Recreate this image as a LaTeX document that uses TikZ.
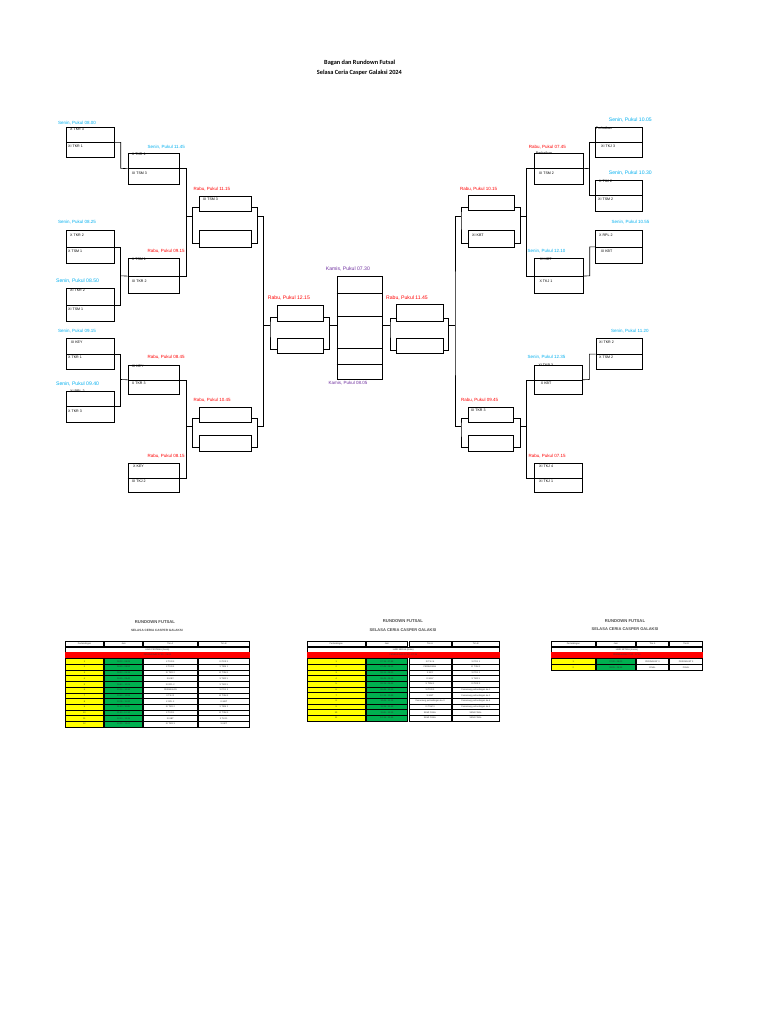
\documentclass[tikz,border=0pt]{standalone}
\usepackage{fontspec}
\setmainfont{Liberation Sans}
\newfontfamily\judulfont{Carlito}
\usepackage{tikz}
\usetikzlibrary{calc}
\definecolor{seninblue}{HTML}{00B0F0}
\definecolor{rabured}{HTML}{FF0000}
\definecolor{kamispurple}{HTML}{7030A0}
\definecolor{jamgreen}{HTML}{00B050}
\definecolor{tabyellow}{HTML}{FFFF00}

\begin{document}
\begin{tikzpicture}[x=1pt, y=-1pt,
    match/.style={draw, line width=0.6pt, inner sep=0pt, anchor=north west},
    conn/.style={line width=0.6pt},
    team/.style={anchor=west, inner sep=0pt, font=\fontsize{3.6}{4}\selectfont},
    senin/.style={anchor=west, inner sep=0pt, text=seninblue, font=\fontsize{4.5}{5}\selectfont},
    rabu/.style={senin, text=rabured},
    kamis/.style={senin, text=kamispurple},
    besar/.style={font=\fontsize{5.1}{6}\selectfont},
    cell/.style={draw, line width=0.6pt, inner sep=0pt, anchor=north west, text=black!80, font=\fontsize{2.2}{2.4}\selectfont},
    tabjudul/.style={inner sep=0pt, text=black!70, font=\bfseries\fontsize{4.2}{5}\selectfont}]
  \useasboundingbox (0,0) rectangle (768,1024);
  \fill[white] (0,0) rectangle (768,1024);

  \node[font=\judulfont\bfseries\fontsize{6.3}{7}\selectfont] (judul) at (359.7,63.3) {Bagan dan Rundown Futsal};
  \node[font=\judulfont\bfseries\fontsize{6.3}{7}\selectfont] (acara) at (359.4,72.3) {Selasa Ceria Casper Galaksi 2024};

  % kiri
  \node[match, minimum width=48.3, minimum height=29.7] (A) at (66,127.3) {};
  \node[match, minimum width=51.3, minimum height=31.3] (B) at (127.7,152.7) {};
  \node[match, minimum width=48.3, minimum height=33] (C) at (66,230) {};
  \node[match, minimum width=51.3, minimum height=35] (D) at (127.7,258.3) {};
  \node[match, minimum width=48.3, minimum height=32.7] (E) at (66,288.3) {};
  \node[match, minimum width=48.3, minimum height=31] (H) at (66,338.3) {};
  \node[match, minimum width=48.3, minimum height=31.3] (I) at (66,390.7) {};
  \node[match, minimum width=51.3, minimum height=29.6] (J) at (127.7,364.7) {};
  \node[match, minimum width=51.3, minimum height=28.4] (M) at (127.7,463.3) {};
  \node[match, minimum width=51.7, minimum height=15] (F) at (199.3,195.7) {};
  \node[match, minimum width=51.7, minimum height=17.3] (G) at (199.3,230) {};
  \node[match, minimum width=51.7, minimum height=15.3] (K) at (199.3,406.7) {};
  \node[match, minimum width=51.7, minimum height=16] (L) at (199.3,435.3) {};
  % tengah
  \node[match, minimum width=45.4, minimum height=16.3] (N) at (277.3,304.7) {};
  \node[match, minimum width=45.4, minimum height=15.6] (O) at (277.3,337.7) {};
  \node[match, minimum width=45.6, minimum height=103.6] (fin) at (336.7,275.7) {};
  \node[match, minimum width=47, minimum height=16.4] (P) at (395.7,304.3) {};
  \node[match, minimum width=47, minimum height=15] (P2) at (395.7,338.3) {};
  % kanan
  \node[match, minimum width=45.3, minimum height=15] (T) at (468.3,195.5) {};
  \node[match, minimum width=45.3, minimum height=17.3] (U) at (468.3,230) {};
  \node[match, minimum width=45, minimum height=15.6] (V) at (468.3,406.7) {};
  \node[match, minimum width=45, minimum height=16] (W) at (468.3,435.3) {};
  \node[match, minimum width=48.7, minimum height=31.3] (S) at (534,152.7) {};
  \node[match, minimum width=48.7, minimum height=35] (AB) at (534,258.3) {};
  \node[match, minimum width=48.3, minimum height=29.6] (X) at (534,364.7) {};
  \node[match, minimum width=48.3, minimum height=28.4] (Z) at (534,463.3) {};
  \node[match, minimum width=47, minimum height=29.7] (Q) at (595.3,127.3) {};
  \node[match, minimum width=47, minimum height=30.4] (R) at (595.3,180.3) {};
  \node[match, minimum width=47, minimum height=33] (AA) at (595.3,230) {};
  \node[match, minimum width=46.6, minimum height=31] (Y) at (595.7,338.3) {};

  \foreach \m in {A,B,C,D,E,H,I,J,M,S,AB,X,Z,Q,R,AA,Y}
    \draw[conn] (\m.west) -- (\m.east);
  \foreach \d in {18,41,72.6,88.6}
    \draw[conn] ([yshift=-\d pt]fin.north west) -- ([yshift=-\d pt]fin.north east);

  % titik belok
  \coordinate (lr0) at (120.7,168.35);
  \coordinate (lr1) at (120.7,275.8);
  \coordinate (lr2) at (120.7,379.5);
  \coordinate (lq1) at (186.7,216);
  \coordinate (lq2) at (186.7,426.7);
  \coordinate (lp1) at (192.3,216);
  \coordinate (lp2) at (192.3,426.7);
  \coordinate (lo1) at (257.3,216);
  \coordinate (lo2) at (257.3,426.7);
  \coordinate (ln) at (263.3,325.7);
  \coordinate (lm) at (270,325.7);
  \coordinate (ll) at (329.7,325.7);
  \coordinate (rl) at (390,325.4);
  \coordinate (rm) at (448.3,325.4);
  \coordinate (rn) at (455,325.4);
  \coordinate (rp1) at (461,216);
  \coordinate (rp2) at (461,426.7);
  \coordinate (rq1) at (520.7,216);
  \coordinate (rq2) at (520.7,426.7);
  \coordinate (rr1) at (526.7,216);
  \coordinate (rr2) at (526.7,426.7);
  \coordinate (rs1) at (589.7,168.35);
  \coordinate (rs2) at (589.7,275.8);
  \coordinate (rs3) at (589.3,379.5);

  \draw[conn] (A.east) -| (lr0) -- (B.west);
  \draw[conn] (C.east) -| (lr1) |- (E.east);
  \draw[conn] (lr1) -- (D.west);
  \draw[conn] (H.east) -| (lr2) |- (I.east);
  \draw[conn] (lr2) -- (J.west);
  \draw[conn] (B.east) -| (lq1) |- (D.east);
  \draw[conn] (J.east) -| (lq2) |- (M.east);
  \draw[conn] (lq1) -- (lp1);
  \draw[conn] (lq2) -- (lp2);
  \draw[conn] ([yshift=4pt]F.south west) -| (lp1) |- ([yshift=5pt]G.south west);
  \draw[conn] ([yshift=4pt]F.south east) -| (lo1) |- ([yshift=5pt]G.south east);
  \draw[conn] ([yshift=4.7pt]K.south west) -| (lp2) |- ([yshift=4.6pt]L.south west);
  \draw[conn] ([yshift=4.7pt]K.south east) -| (lo2) |- ([yshift=4.6pt]L.south east);
  \draw[conn] (lo1) -| (ln) |- (lo2);
  \draw[conn] (ln) -- (lm);
  \draw[conn] ([yshift=4.3pt]N.south west) -| (lm) |- ([yshift=5pt]O.south west);
  \draw[conn] ([yshift=4.3pt]N.south east) -| (ll) |- ([yshift=5pt]O.south east);
  \draw[conn] (ll) -- (ll -| fin.west);
  \draw[conn] (rl -| fin.east) -- (rl);
  \draw[conn] ([yshift=3.4pt]P.south west) -| (rl) |- ([yshift=4pt]P2.south west);
  \draw[conn] ([yshift=3.4pt]P.south east) -| (rm) |- ([yshift=4pt]P2.south east);
  \draw[conn] (rm) -- (rn);
  \draw[conn] (rp1) -| (rn) |- (rp2);
  \draw[conn] ([yshift=3.8pt]T.south west) -| (rp1) |- ([yshift=5pt]U.south west);
  \draw[conn] ([yshift=3.8pt]T.south east) -| (rq1) |- ([yshift=5pt]U.south east);
  \draw[conn] ([yshift=5pt]V.south west) -| (rp2) |- ([yshift=4.6pt]W.south west);
  \draw[conn] ([yshift=5pt]V.south east) -| (rq2) |- ([yshift=4.6pt]W.south east);
  \draw[conn] (rq1) -- (rr1);
  \draw[conn] (rq2) -- (rr2);
  \draw[conn] (S.west) -| (rr1) |- (AB.west);
  \draw[conn] (X.west) -| (rr2) |- (Z.west);
  \draw[conn] (Q.west) -| (rs1) |- (R.west);
  \draw[conn] (rs1) -- (S.east);
  \draw[conn] (AA.west) -| (rs2) -- (AB.east);
  \draw[conn] (Y.west) -| (rs3) -- (X.east);

  % nama tim
  \node[team] (A-1) at (70,129) {X TKR 3};
  \node[team] (A-2) at (68,146.7) {XI TKR 1};
  \node[team] (B-1) at (131.7,154.5) {X TKR 1};
  \node[team] (B-2) at (131.7,173.3) {XI TSM 3};
  \node[team] (C-1) at (70,235) {X TKR 2};
  \node[team] (C-2) at (68,251) {X TSM 1};
  \node[team] (D-1) at (131.7,259.5) {X TSM 1};
  \node[team] (D-2) at (131.7,281.7) {XI TKR 2};
  \node[team] (E-1) at (70,290.5) {XI TKR 2};
  \node[team] (E-2) at (68,309.3) {XI TSM 1};
  \node[team] (H-1) at (70.7,342.3) {XI KEY};
  \node[team] (H-2) at (68,357) {X TKR 1};
  \node[team] (I-1) at (70,391.5) {XI RPL 2};
  \node[team] (I-2) at (68,411) {X TKR 3};
  \node[team] (J-1) at (131.7,366) {XI KEY};
  \node[team] (J-2) at (131.7,383.7) {X TKR 3};
  \node[team] (M-1) at (133,466) {X KEY};
  \node[team] (M-2) at (131.7,481.7) {XI TKJ 2};
  \node[team] (F-1) at (202.7,199.3) {XI TSM 3};
  \node[team] (U-1) at (472,235) {XI KBT};
  \node[team] (V-1) at (470.7,410.7) {XI TKR 3};
  \node[team] (S-1) at (535.7,153.7) {Perbaikan};
  \node[team] (S-2) at (538.7,173) {XI TSM 2};
  \node[team] (AB-1) at (540,259) {XI KBT};
  \node[team] (AB-2) at (539.3,281.7) {X TKJ 1};
  \node[team] (X-1) at (538.3,365.5) {XI TKR 3};
  \node[team] (X-2) at (540.7,383.7) {X KBT};
  \node[team] (Z-1) at (539,466.7) {XI TKJ 4};
  \node[team] (Z-2) at (539,481.7) {XI TKJ 1};
  \node[team] (Q-1) at (595.7,128.7) {Perbaikan};
  \node[team] (Q-2) at (601,146.7) {XI TKJ 3};
  \node[team] (R-1) at (599,181) {X TKJ 2};
  \node[team] (R-2) at (598,199.3) {XI TSM 2};
  \node[team] (AA-1) at (599,235) {X RPL 2};
  \node[team] (AA-2) at (600.7,251) {XI KBT};
  \node[team] (Y-1) at (599,342.3) {XI TKR 2};
  \node[team] (Y-2) at (599,357) {X TSM 2};

  % jadwal
  \node[senin] (l-a) at (58,122.7) {Senin, Pukul 08.00};
  \node[senin] (l-b) at (147.3,147.3) {Senin, Pukul 11.45};
  \node[rabu] (l-f) at (193.3,189.3) {Rabu, Pukul 11.15};
  \node[senin] (l-c) at (58,221.7) {Senin, Pukul 08.25};
  \node[rabu] (l-d) at (147.3,251) {Rabu, Pukul 09.15};
  \node[senin, besar] (l-e) at (56,281) {Senin, Pukul 08.50};
  \node[senin] (l-h) at (58,331) {Senin, Pukul 09.15};
  \node[rabu] (l-j) at (147.3,357) {Rabu, Pukul 08.45};
  \node[senin, besar] (l-i) at (56,384.3) {Senin, Pukul 09.40};
  \node[rabu] (l-k) at (193.3,399.7) {Rabu, Pukul 10.45};
  \node[rabu] (l-m) at (147.3,455.7) {Rabu, Pukul 08.15};
  \node[kamis, besar] (l-fin) at (325.7,269) {Kamis, Pukul 07.30};
  \node[rabu, besar] (l-n) at (267.7,298.3) {Rabu, Pukul 12.15};
  \node[rabu, besar] (l-p) at (386,298) {Rabu, Pukul 11.45};
  \node[kamis] (l-fin2) at (328.3,383.3) {Kamis, Pukul 08.05};
  \node[senin, besar] (l-q) at (608.7,120.3) {Senin, Pukul 10.05};
  \node[rabu] (l-s) at (528.7,146.7) {Rabu, Pukul 07.45};
  \node[senin, besar] (l-r) at (608.7,173) {Senin, Pukul 10.30};
  \node[rabu] (l-t) at (460,189.3) {Rabu, Pukul 10.15};
  \node[senin] (l-aa) at (611.3,222) {Senin, Pukul 10.55};
  \node[senin] (l-ab) at (527.3,251) {Senin, Pukul 12.10};
  \node[senin] (l-y) at (611,331) {Senin, Pukul 11.20};
  \node[senin] (l-x) at (527.3,357) {Senin, Pukul 12.35};
  \node[rabu] (l-v) at (461,399.7) {Rabu, Pukul 09.45};
  \node[rabu] (l-z) at (528.3,456) {Rabu, Pukul 07.15};

  % rundown senin
  \node[tabjudul] (t1-judul) at (155,622.3) {RUNDOWN FUTSAL};
  \node[tabjudul, font=\bfseries\fontsize{3.1}{4}\selectfont] (t1-sub) at (157,630) {SELASA CERIA CASPER GALAKSI};
  \foreach \cx/\cw/\txt [count=\k] in {65/38.3/Pertandingan, 104.3/38/Jam, 143.3/53.4/Tim A, 197.7/51.6/Tim B}
    \node[cell, minimum width=\cw, minimum height=5] (t1-h\k) at (\cx,640.7) {\txt};
  \node[cell, minimum width=184.3, minimum height=5] (t1-hari) at (65,646.7) {HARI PERTAMA (Senin)};
  \node[cell, fill=rabured, draw=rabured, minimum width=184.3, minimum height=4.4] (t1-buka) at (65,652.3) {PEMBUKAAN 07.30 - 08.00};
  \foreach \jam/\ta/\tb [count=\i] in {08.00 - 08.25/X TKR 3/XI TKR 1, 08.25 - 08.50/X TKR 2/X TSM 1,
      08.50 - 09.15/XI TKR 2/XI TSM 1, 09.15 - 09.40/XI KEY/X TKR 1, 09.40 - 10.05/XI RPL 2/X TKR 3,
      10.05 - 10.30/PERBAIKAN/XI TKJ 3, 10.30 - 10.55/X TKJ 2/XI TSM 2, 10.55 - 11.20/X RPL 2/XI KBT,
      11.20 - 11.45/XI TKR 2/X TSM 2, 11.45 - 12.10/X TKR 1/XI TSM 3, 12.10 - 12.35/XI KBT/X TKJ 1,
      12.35 - 13.00/XI TKR 3/X KBT} {
    \pgfmathsetmacro\ry{658.3+(\i-1)*5.7}
    \node[cell, fill=tabyellow, minimum width=38.3, minimum height=5.7] (t1-\i-a) at (65,\ry) {\i};
    \node[cell, fill=jamgreen, minimum width=38, minimum height=5.7] (t1-\i-b) at (104.3,\ry) {\jam};
    \node[cell, minimum width=53.4, minimum height=5.7] (t1-\i-c) at (143.3,\ry) {\ta};
    \node[cell, minimum width=51.6, minimum height=5.7] (t1-\i-d) at (197.7,\ry) {\tb};
  }

  % rundown rabu
  \node[tabjudul] (t2-judul) at (403,621.3) {RUNDOWN FUTSAL};
  \node[tabjudul, font=\bfseries\fontsize{4}{5}\selectfont] (t2-sub) at (403,630) {SELASA CERIA CASPER GALAKSI};
  \foreach \cx/\cw/\txt [count=\k] in {306.7/58.3/Pertandingan, 366/41.3/Jam, 408.7/42/Tim A, 451.7/47.6/Tim B}
    \node[cell, minimum width=\cw, minimum height=5] (t2-h\k) at (\cx,641) {\txt};
  \node[cell, minimum width=192.6, minimum height=5] (t2-hari) at (306.7,646.7) {HARI KEDUA (Rabu)};
  \node[cell, fill=rabured, draw=rabured, minimum width=192.6, minimum height=4.4] (t2-buka) at (306.7,652.3) {PEMBUKAAN 07.00 - 07.15};
  \foreach \jam/\ta/\tb [count=\i] in {07.15 - 07.45/XI TKJ 4/XI TKJ 1, 07.45 - 08.15/PERBAIKAN/XI TSM 2,
      08.15 - 08.45/X KEY/XI TKJ 2, 08.45 - 09.15/XI KEY/X TKR 3, 09.15 - 09.45/X TSM 1/XI TKR 2,
      09.45 - 10.15/XI TKR 3/Pemenang pertandingan ke-1, 10.15 - 10.45/XI KBT/Pemenang pertandingan ke-2,
      10.45 - 11.15/Pemenang pertandingan ke-3/Pemenang pertandingan ke-4,
      11.15 - 11.45/XI TSM 3/Pemenang pertandingan ke-5, 11.45 - 12.15/SEMI FINAL/SEMI FINAL,
      12.15 - 12.45/SEMI FINAL/SEMI FINAL} {
    \pgfmathsetmacro\ry{658.3+(\i-1)*5.67}
    \node[cell, fill=tabyellow, minimum width=58.3, minimum height=5.67] (t2-\i-a) at (306.7,\ry) {\i};
    \node[cell, fill=jamgreen, minimum width=41.3, minimum height=5.67] (t2-\i-b) at (366,\ry) {\jam};
    \node[cell, minimum width=42, minimum height=5.67] (t2-\i-c) at (408.7,\ry) {\ta};
    \node[cell, minimum width=47.6, minimum height=5.67] (t2-\i-d) at (451.7,\ry) {\tb};
  }

  % rundown kamis
  \node[tabjudul] (t3-judul) at (625,621.3) {RUNDOWN FUTSAL};
  \node[tabjudul, font=\bfseries\fontsize{4}{5}\selectfont] (t3-sub) at (625,629.3) {SELASA CERIA CASPER GALAKSI};
  \foreach \cx/\cw/\txt [count=\k] in {551/44/Pertandingan, 596/39/Jam, 636/32.3/Tim A, 669.3/33/Tim B}
    \node[cell, minimum width=\cw, minimum height=5] (t3-h\k) at (\cx,640.7) {\txt};
  \node[cell, minimum width=151.3, minimum height=5] (t3-hari) at (551,646.7) {HARI KETIGA (Kamis)};
  \node[cell, fill=rabured, draw=rabured, minimum width=151.3, minimum height=4.4] (t3-buka) at (551,652.3) {PEMBUKAAN 07.00 - 07.30};
  \foreach \jam/\ta/\tb [count=\i] in {07.30 - 08.00/PERINGKAT 3/PERINGKAT 3, 08.05 - 08.35/FINAL/FINAL} {
    \pgfmathsetmacro\ry{658.3+(\i-1)*5.8}
    \node[cell, fill=tabyellow, minimum width=44, minimum height=5.8] (t3-\i-a) at (551,\ry) {\i};
    \node[cell, fill=jamgreen, minimum width=39, minimum height=5.8] (t3-\i-b) at (596,\ry) {\jam};
    \node[cell, minimum width=32.3, minimum height=5.8] (t3-\i-c) at (636,\ry) {\ta};
    \node[cell, minimum width=33, minimum height=5.8] (t3-\i-d) at (669.3,\ry) {\tb};
  }
\end{tikzpicture}
\end{document}
